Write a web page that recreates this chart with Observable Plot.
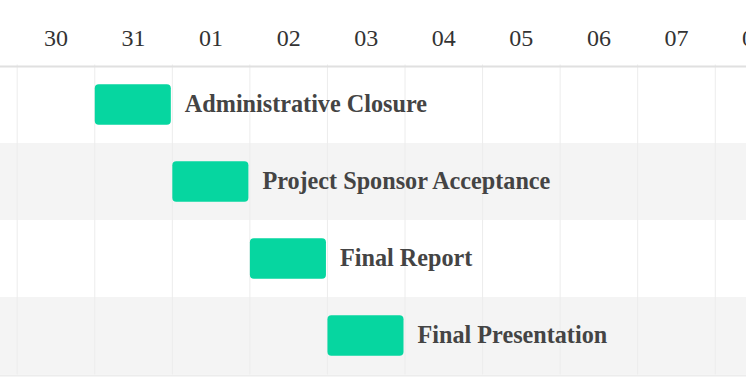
<!DOCTYPE html>
<html>
<head>
<meta charset="utf-8">
<script src="https://cdn.jsdelivr.net/npm/d3@7"></script>
<script src="https://cdn.jsdelivr.net/npm/@observablehq/plot@0.6"></script>
<style>
  html, body { margin: 0; padding: 0; background: #fff; }
  #chart svg { display: block; }
</style>
</head>
<body>
<div id="chart"></div>
<script>
// ---- data ----
const tasks = ["Administrative Closure", "Project Sponsor Acceptance", "Final Report", "Final Presentation"];
const starts = ["2023-12-31", "2024-01-01", "2024-01-02", "2024-01-03"];
const ends = ["2024-01-01", "2024-01-02", "2024-01-03", "2024-01-04"];
const gridDays = ["2023-12-30", "2023-12-31", "2024-01-01", "2024-01-02", "2024-01-03", "2024-01-04", "2024-01-05", "2024-01-06", "2024-01-07", "2024-01-08"];
const viewStart = "2023-12-29T18:50:00Z";
const viewEnd = "2024-01-08T09:40:00Z";

const serif = "Liberation Serif";
const rows = tasks.map((t, i) => ({
  task: t,
  start: new Date(starts[i] + "T00:00:00Z"),
  end: new Date(ends[i] + "T00:00:00Z"),
  shaded: i % 2 === 1
}));
const grid = gridDays.map(d => new Date(d + "T00:00:00Z"));
const tickDates = grid.map(d => new Date(+d + 12 * 3600 * 1000));
const x0 = new Date(viewStart), x1 = new Date(viewEnd);

const chart = Plot.plot({
  width: 746,
  height: 378,
  marginLeft: 0,
  marginRight: 0,
  marginTop: 64.5,
  marginBottom: 3.5,
  style: { background: "#fff", fontFamily: serif },
  x: { type: "utc", domain: [x0, x1] },
  y: { type: "band", domain: tasks, padding: 0, axis: null },
  marks: [
    Plot.barX(rows.filter(r => r.shaded), { x1: () => x0, x2: () => x1, y: "task", fill: "#f4f4f4" }),
    Plot.ruleX(grid, { x: d => d, stroke: "#ececec", strokeWidth: 1 }),
    Plot.frame({ anchor: "top", stroke: "#e0e0e0", strokeWidth: 2, dy: 1.5 }),
    Plot.frame({ anchor: "bottom", stroke: "#ececec", strokeWidth: 2, dy: 0.5 }),
    Plot.barX(rows, { x1: "start", x2: "end", y: "task", fill: "#06d6a0", insetTop: 18.25, insetBottom: 18.25, insetLeft: 0.5, insetRight: 1, rx: 4 }),
    Plot.text(rows, { x: "end", y: "task", text: "task", dx: 12.5, dy: -1, textAnchor: "start", fontSize: 24.2, fontWeight: "bold", fill: "#444", fontFamily: serif }),
    Plot.axisX({ anchor: "top", ticks: tickDates, tickFormat: d3.utcFormat("%d"), tickSize: 0, tickPadding: 19.5, fontSize: 24, fill: "#333", fontFamily: serif, label: null })
  ]
});
document.getElementById("chart").appendChild(chart);
</script>
</body>
</html>
